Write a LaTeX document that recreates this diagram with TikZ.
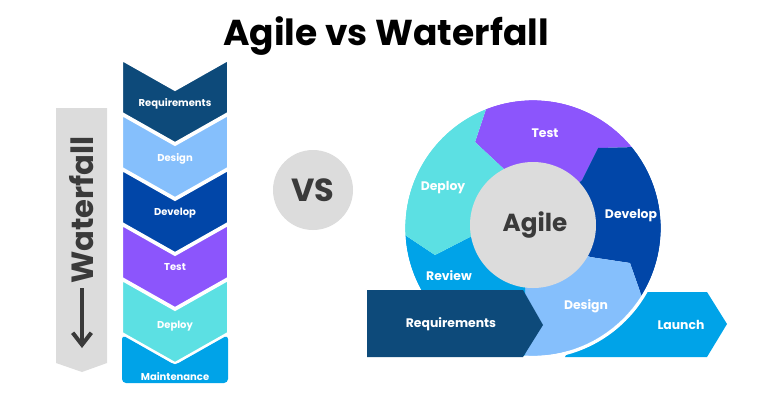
\documentclass[tikz,border=0pt]{standalone}
\usetikzlibrary{arrows.meta}
\usepackage{fontspec}
\setmainfont{Poppins}
\begin{document}
\begin{tikzpicture}[x=0.75pt,y=-0.75pt,
  lab/.style={text=white,font=\bfseries\fontsize{#1}{#1}\selectfont,inner sep=0},
  chev/.style={draw=white,line width=1.5pt,line join=miter}]
\definecolor{cReq}{HTML}{0D4A7A}
\definecolor{cDes}{HTML}{85BFFC}
\definecolor{cDev}{HTML}{0146A8}
\definecolor{cTest}{HTML}{8C55FC}
\definecolor{cDep}{HTML}{5CE0E3}
\definecolor{cMnt}{HTML}{00A3E8}
\definecolor{cGray}{HTML}{DCDCDC}
\definecolor{cDark}{HTML}{3A3A3A}
\useasboundingbox (0,0) rectangle (768,408);
% title
\node[font=\bfseries\fontsize{27}{27}\selectfont,inner sep=0] (title) at (386,36) {Agile vs Waterfall};
% waterfall gray arrow
\fill[cGray] (56,108) -- (107,108) -- (107,363) -- (82,372) -- (56,363) -- cycle;
\node[rotate=90,text=cDark,font=\bfseries\fontsize{23}{23}\selectfont,inner sep=0] (wf) at (82,210) {Waterfall};
\coordinate (a1) at (82,288); \coordinate (a2) at (82,348);
\draw[cDark,line width=3.5pt,-{Straight Barb[length=9pt,width=14pt,line width=3pt]}] (a1) -- (a2);
% chevrons (bottom to top)
\fill[cMnt,rounded corners=3] (122,335) -- (175,365) -- (228,335) -- (228,383) -- (122,383) -- cycle;
\foreach \t/\c in {280/cDep,225/cTest,170/cDev,115/cDes,60/cReq}{
  \filldraw[chev,fill=\c] (122,\t) -- (175,\t+30) -- (228,\t) -- (228,\t+53) -- (175,\t+83) -- (122,\t+53) -- cycle;
}
\node[lab=7.5] (w1) at (175,104) {Requirements};
\node[lab=7.5] (w2) at (175,159) {Design};
\node[lab=7.5] (w3) at (175,213) {Develop};
\node[lab=7.5] (w4) at (175,267) {Test};
\node[lab=7.5] (w5) at (175,326) {Deploy};
\node[lab=7.5] (w6) at (175,377) {Maintenance};
% VS
\fill[cGray] (313,190) circle (40);
\node[text=cDark,font=\bfseries\fontsize{24}{24}\selectfont,inner sep=0] (vs) at (313,190) {VS};
% Launch
\fill[cMnt] (565,357) -- (707,357) -- (727,324) -- (707,292) -- (600,292) -- cycle;
% agile circle
\begin{scope}
\clip (533,228) circle (128);
\fill[cTest] (533,228) -- (505,170) -- (475,142) -- (488,103) -- (480,60) -- (700,60) -- (637,147) -- (598,148) -- (582,180) -- cycle;
\fill[cDev] (533,228) -- (582,180) -- (598,148) -- (637,147) -- (700,60) -- (720,350) -- (643,300) -- (630,263) -- (590,257) -- cycle;
\fill[cDes] (533,228) -- (590,257) -- (630,263) -- (643,300) -- (720,350) -- (600,400) -- (525,400) -- (525,290) -- cycle;
\fill[cMnt] (533,228) -- (525,290) -- (525,400) -- (380,400) -- (380,240) -- (402,233) -- (435,255) -- (470,237) -- cycle;
\fill[cDep] (533,228) -- (470,237) -- (435,255) -- (402,233) -- (380,240) -- (380,60) -- (480,60) -- (488,103) -- (475,142) -- (505,170) -- cycle;
\end{scope}
\draw[white,line width=2.5pt] (533,228) circle (129.5);
\fill[cGray] (533,225) circle (63);
\node[text=cDark,font=\bfseries\fontsize{18.5}{18.5}\selectfont,inner sep=0] (ag) at (535,225) {Agile};
% Requirements arrow
\fill[cReq] (367,290) -- (523,290) -- (543,325) -- (523,357) -- (367,357) -- cycle;
\node[lab=9.3] (r) at (451,324) {Requirements};
\node[lab=9.3] (l) at (681,325) {Launch};
\node[lab=9.3] (t) at (545,133) {Test};
\node[lab=9.3] (d) at (443,188) {Deploy};
\node[lab=9.3] (dv) at (631,216) {Develop};
\node[lab=9.3] (rv) at (449,276) {Review};
\node[lab=9.3] (ds) at (586,306) {Design};
\end{tikzpicture}
\end{document}
